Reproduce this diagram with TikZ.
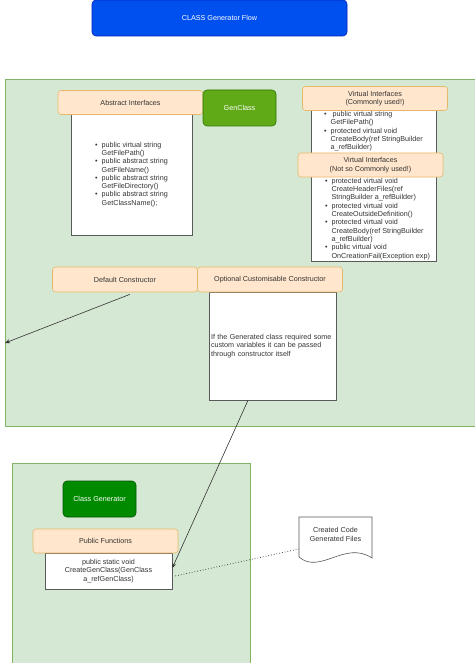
\documentclass[tikz,border=0pt]{standalone}
\usepackage{fontspec}
\setmainfont{Liberation Sans}
\usetikzlibrary{arrows.meta}

\definecolor{regionfill}{HTML}{D5E8D4}
\definecolor{regionline}{HTML}{82B366}
\definecolor{hdrfill}{HTML}{FFE6CC}
\definecolor{hdrline}{HTML}{E8B86A}
\definecolor{titlefill}{HTML}{0050EF}
\definecolor{titleline}{HTML}{001DBC}
\definecolor{genfill}{HTML}{60A917}
\definecolor{genline}{HTML}{2D7600}
\definecolor{cgfill}{HTML}{008A00}
\definecolor{cgline}{HTML}{005700}

% bullet list with hanging second lines
\newcommand{\blist}[1]{\begin{tabular}{@{}l@{\hspace{4pt}}l@{}}#1\end{tabular}}

\begin{document}
\begin{tikzpicture}[
  x=1pt, y=-1pt,
  font=\fontsize{7.2}{8.3}\selectfont,
  region/.style={draw=regionline, fill=regionfill, line width=0.6pt},
  hdr/.style={rectangle, rounded corners=3pt, draw=hdrline, fill=hdrfill,
              line width=0.6pt, text=black!80, minimum width=145pt,
              minimum height=24pt, align=center, inner sep=1pt},
  wbox/.style={rectangle, draw=black!65, fill=white, line width=0.6pt,
               text=black!80, inner sep=1pt},
  solid/.style={rectangle, rounded corners=4pt, line width=0.6pt, text=white,
                minimum width=73pt, minimum height=36pt, align=center},
  arr/.style={-{Stealth[length=5pt,width=4pt]}, line width=0.6pt, black!80},
  darr/.style={dotted, line width=0.8pt, black!70},
]
\useasboundingbox (0,0) rectangle (474,663);

% Title
\node[solid, draw=titleline, fill=titlefill, minimum width=255pt]
  (title) at (219.5,18) {CLASS Generator Flow};

% Regions
\draw[region] (5,79) rectangle (480,426);
\draw[region] (12,463) rectangle (250,670);

% GenClass part
\node[wbox, minimum width=121pt, minimum height=121pt] (absbox) at (131.5,174.5)
  {\blist{\textbullet & public virtual string\\ & GetFilePath()\\
          \textbullet & public abstract string\\ & GetFileName()\\
          \textbullet & public abstract string\\ & GetFileDirectory()\\
          \textbullet & public abstract string\\ & GetClassName();}};
\node[hdr] (abshdr) at (130.5,102.5) {Abstract Interfaces};
\node[solid, draw=genline, fill=genfill] (genclass) at (239.5,108) {GenClass};

\node[wbox, minimum width=125pt, minimum height=43pt] (vbox1) at (373.5,131.5)
  {\blist{\textbullet & \ public virtual string\\ & GetFilePath()\\
          \textbullet & protected virtual void\\ & CreateBody(ref StringBuilder\\ & a\_refBuilder)}};
\node[wbox, minimum width=125pt, minimum height=84pt] (vbox2) at (373.5,219)
  {\hspace*{8pt}\blist{\textbullet & protected virtual void\\ & CreateHeaderFiles(ref\\ & StringBuilder a\_refBuilder)\\
          \textbullet & protected virtual void\\ & CreateOutsideDefinition()\\
          \textbullet & protected virtual void\\ & CreateBody(ref StringBuilder\\ & a\_refBuilder)\\
          \textbullet & public virtual void\\ & OnCreationFail(Exception exp)}};
\node[hdr] (vhdr1) at (375,98.5) {Virtual Interfaces\\(Commonly used!)};
\node[hdr] (vhdr2) at (370.5,165) {Virtual Interfaces\\(Not so Commonly used!)};

% Constructors
\node[hdr, minimum height=25pt] (dflt) at (125,279.5) {Default Constructor};
\node[wbox, minimum width=127pt, minimum height=108pt, text width=123pt,
      align=left, inner sep=2pt] (optbox) at (272.5,346)
  {If the Generated class required some\\custom variables it can be passed\\through constructor itself};
\node[hdr, minimum height=25pt] (opthdr) at (270,279.5) {Optional Customisable Constructor};

% Class Generator part
\node[solid, draw=cgline, fill=cgfill] (clsgen) at (99.5,499) {Class Generator};
\node[wbox, minimum width=127pt, minimum height=36pt, align=center] (create) at (108.5,571)
  {public static void\\CreateGenClass(GenClass\\a\_refGenClass)};
\node[hdr] (pubhdr) at (105.5,541) {Public Functions};

% Generated files
\draw[black!65, fill=white, line width=0.6pt] (299,517) -- (372,517) -- (372,558)
  .. controls (345,540) and (320,575) .. (299,557) -- cycle;
\node[text=black!80, align=center, minimum width=73pt] (doc) at (335.5,534.5)
  {Created Code\\Generated Files};

% Connectors
\coordinate (leftend) at (5,343);
\draw[arr] ([xshift=5pt,yshift=-2pt]dflt.south) -- (leftend);
\draw[arr] ([xshift=-24.5pt]optbox.south) -- ([yshift=3pt]create.east);
\draw[darr] ([xshift=3pt,yshift=-5pt]create.east) -- ([yshift=-14.5pt]doc.west);

\end{tikzpicture}
\end{document}
